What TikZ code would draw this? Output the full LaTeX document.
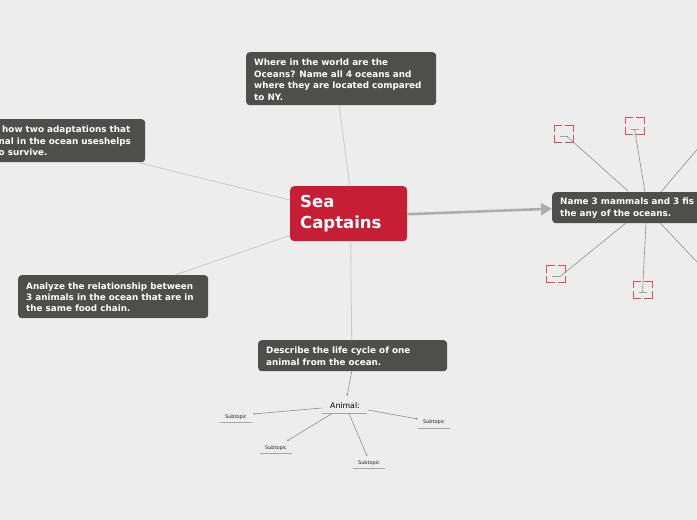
\documentclass[tikz,border=0pt]{standalone}
\usepackage{fontspec}
\setmainfont{DejaVu Sans}
\usetikzlibrary{arrows.meta}
\definecolor{bg}{HTML}{EDEDED}
\definecolor{boxgray}{HTML}{4E4E4D}
\definecolor{capred}{HTML}{C81E35}
\definecolor{conn}{HTML}{C9C9C9}
\definecolor{subconn}{HTML}{8E8E8E}
\definecolor{dashred}{HTML}{E04A5F}
\definecolor{placeholder}{HTML}{A0A0A0}
\tikzset{
  darkbox/.style={fill=boxgray, rounded corners=3.5pt, inner sep=0pt, anchor=north west},
  boxtext/.style={text=white, font=\bfseries\fontsize{8.8}{11.4}\selectfont, align=left, anchor=west, inner sep=0pt},
  mainlink/.style={draw=conn, line width=0.8pt},
  sublink/.style={draw=subconn, line width=0.6pt},
  ghost/.style={draw=dashred, dash pattern=on 15pt off 3pt, dash phase=7pt, line width=1pt, minimum width=19pt, minimum height=17pt, inner sep=0pt},
  subt/.style={font=\fontsize{5}{6}\selectfont, text=black!85, inner sep=1pt},
  uline/.style={draw=gray!70, line width=0.8pt},
  tinytip/.style={-{Stealth[length=2pt,width=2pt]}}
}
\begin{document}
\begin{tikzpicture}[x=1pt,y=-1pt]
\useasboundingbox (0,0) rectangle (697,520);
\fill[bg] (0,0) rectangle (697,520);
\clip (0,0) rectangle (697,520);

% central
\node[fill=capred, rounded corners=4pt, minimum width=117pt, minimum height=55pt, anchor=north west, inner sep=0pt] (center) at (290,186) {};
\node[text=white, font=\bfseries\fontsize{16.5}{21}\selectfont, align=left, anchor=west, inner sep=0pt] (centertext) at ([xshift=10pt]center.west) {Sea\\Captains};

% top
\node[darkbox, minimum width=190pt, minimum height=53pt] (top) at (246,52) {};
\node[boxtext] (toptext) at ([xshift=8pt,yshift=-1pt]top.west) {Where in the world are the\\Oceans? Name all 4 oceans and\\where they are located compared\\to NY.};

% left (clipped)
\node[darkbox, minimum width=160pt, minimum height=43pt] (left) at (-15,119) {};
\node[boxtext] (lefttext) at (-1.5,141) {\hspace{3.5pt}how two adaptations that\\nal in the ocean useshelps\\o survive.};

% food chain
\node[darkbox, minimum width=190pt, minimum height=43pt] (food) at (18,275) {};
\node[boxtext] (foodtext) at ([xshift=8pt,yshift=-0.5pt]food.west) {Analyze the relationship between\\3 animals in the ocean that are in\\the same food chain.};

% life cycle
\node[darkbox, minimum width=189pt, minimum height=31pt] (life) at (258,340) {};
\node[boxtext] (lifetext) at ([xshift=8pt,yshift=-0.5pt]life.west) {Describe the life cycle of one\\animal from the ocean.};

% right (clipped)
\node[darkbox, minimum width=160pt, minimum height=31pt] (right) at (552,192) {};
\node[boxtext] (righttext) at ([xshift=8pt,yshift=-0.5pt]right.west) {Name 3 mammals and 3 fis\\the any of the oceans.};

% main links
\draw[mainlink] ([xshift=1pt]center.north) -- ([xshift=-2pt]top.south);
\draw[mainlink] ([yshift=-14pt]center.north west) -- ([xshift=-8pt]left.south east);
\draw[mainlink] ([yshift=6pt]center.south west) -- (175,275);
\draw[mainlink] ([xshift=2pt]center.south) -- ([xshift=-1pt]life.north);
\draw[draw=black!32, line width=2.6pt, -{Triangle[length=11pt,width=12pt]}] ([yshift=-0.5pt]center.east) -- ([yshift=-1pt]right.west);

% right subtopics
\node[ghost] (g1) at (563.5,133.5) {};
\node[ghost] (g2) at (634.5,125.5) {};
\node[ghost] (g3) at (556,274) {};
\node[ghost] (g4) at (642.5,289.5) {};
\foreach \g/\dy in {g1/2.5, g2/3.5, g3/2.5, g4/2.5}{
  \draw[draw=placeholder, line width=1pt] ([xshift=-4pt,yshift=-\dy pt]\g.center) -- ([xshift=4pt,yshift=-\dy pt]\g.center);
}
\coordinate (o1) at (700,146);
\coordinate (o2) at (700,265);
\draw[sublink] (628,191) -- ([xshift=3pt,yshift=-2.5pt]g1.center);
\draw[sublink] (645,192) -- ([yshift=-3.5pt]g2.center);
\draw[sublink] (661,192) -- (o1);
\draw[sublink] (626,223) -- ([xshift=4pt,yshift=-2.5pt]g3.center);
\draw[sublink] (646,223) -- ([yshift=-2.5pt]g4.center);
\draw[sublink] (660,223) -- (o2);

% animal section
\node[font=\fontsize{7.8}{9}\selectfont, inner sep=1pt] (animal) at (345,406) {Animal:};
\draw[uline] (322,413.5) -- (367,413.5);
\draw[sublink, tinytip] ([xshift=-1pt]life.south) -- (347,396);

\node[subt] (s1) at (236,417) {Subtopic};
\node[subt] (s2) at (276,448) {Subtopic};
\node[subt] (s3) at (369,463) {Subtopic};
\node[subt] (s4) at (434,422) {Subtopic};
\draw[uline] (220,422.5) -- (252,422.5);
\draw[uline] (260,453.5) -- (292,453.5);
\draw[uline] (353,468.5) -- (385,468.5);
\draw[uline] (418,428) -- (450,428);
\draw[sublink, tinytip] (322,408) -- (253,414);
\draw[sublink, tinytip] (332,413.5) -- (287,441);
\draw[sublink, tinytip] (349,413.5) -- (367,456);
\draw[sublink, tinytip] (368,410) -- (418,419);
\end{tikzpicture}
\end{document}
